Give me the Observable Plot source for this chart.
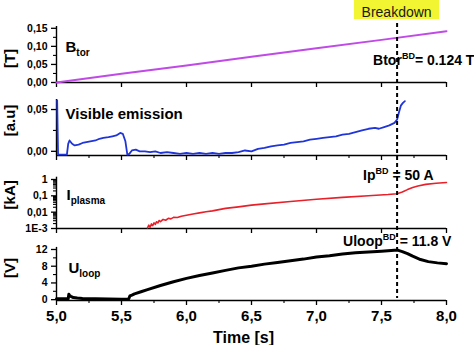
<!DOCTYPE html>
<html><head><meta charset="utf-8">
<script src="https://cdn.jsdelivr.net/npm/d3@7"></script>
<script src="https://cdn.jsdelivr.net/npm/@observablehq/plot@0.6"></script>
<style>
body{margin:0;background:#fff;}
#chart{position:relative;width:474px;height:345px;overflow:hidden;font-family:"Liberation Sans",Arial,sans-serif;}
#chart svg{position:absolute;left:0;}
#bd{position:absolute;top:0;height:19px;background:#f2f531;color:#1a1a1a;font-size:14px;text-align:center;line-height:24px;font-family:"Liberation Sans",Arial,sans-serif;}
</style></head><body><div id="chart"></div>
<script>
// ---- data ----
const timeDomain = [5, 8];
const bdTime = 7.62;
const xMajor = [5, 5.5, 6, 6.5, 7, 7.5, 8];
const xMinor = [5.25, 5.75, 6.25, 6.75, 7.25, 7.75];

// B_tor [T]
const bTime = [5.0, 5.5, 6.0, 6.5, 7.0, 7.5, 8.0];
const bTor  = [0, 0.024, 0.047, 0.071, 0.095, 0.118, 0.142];
const bTicks = [0, 0.05, 0.10, 0.15];
const bMinor = [0.025, 0.075, 0.125];

// Visible emission [a.u]
const emTime = [5.005, 5.012, 5.05, 5.08, 5.09, 5.10, 5.12, 5.14, 5.17, 5.20, 5.23, 5.26, 5.30, 5.33, 5.36, 5.40, 5.43, 5.46, 5.49, 5.51, 5.53, 5.545, 5.56, 5.58, 5.61, 5.64, 5.68, 5.72, 5.76, 5.80, 5.85, 5.90, 5.95, 6.00, 6.05, 6.10, 6.15, 6.20, 6.25, 6.30, 6.35, 6.40, 6.45, 6.50, 6.55, 6.60, 6.65, 6.70, 6.75, 6.80, 6.85, 6.90, 6.95, 7.00, 7.05, 7.10, 7.15, 7.20, 7.25, 7.30, 7.35, 7.40, 7.45, 7.48, 7.52, 7.56, 7.60, 7.62, 7.635, 7.65, 7.665, 7.68];
const emVal  = [0.061, -0.004, -0.004, -0.004, 0.009, 0.013, 0.009, 0.007, 0.008, 0.010, 0.011, 0.012, 0.013, 0.015, 0.016, 0.017, 0.018, 0.019, 0.022, 0.021, 0.012, -0.004, -0.003, 0.001, 0.002, 0.000, 0.000, -0.001, 0.000, -0.002, -0.001, -0.002, -0.003, -0.002, -0.003, -0.002, -0.003, -0.002, -0.003, -0.002, -0.002, -0.001, 0.001, 0.000, 0.003, 0.004, 0.006, 0.007, 0.008, 0.010, 0.011, 0.012, 0.014, 0.015, 0.016, 0.017, 0.018, 0.020, 0.021, 0.023, 0.025, 0.027, 0.028, 0.027, 0.029, 0.031, 0.034, 0.038, 0.047, 0.055, 0.058, 0.060];
const emTicks = [0, 0.05];
const emMinor = [0.025];

// I_plasma [kA] (log)
const ipTime = [5.70, 5.71, 5.72, 5.73, 5.74, 5.75, 5.76, 5.77, 5.78, 5.79, 5.80, 5.82, 5.84, 5.86, 5.88, 5.90, 5.93, 5.96, 6.00, 6.05, 6.10, 6.15, 6.20, 6.30, 6.40, 6.50, 6.60, 6.80, 7.00, 7.20, 7.40, 7.55, 7.62, 7.66, 7.70, 7.74, 7.78, 7.84, 7.92, 8.00];
const ipVal  = [0.0011, 0.0016, 0.0012, 0.0019, 0.0015, 0.0022, 0.0018, 0.0026, 0.0022, 0.0031, 0.0026, 0.0036, 0.0032, 0.0042, 0.0039, 0.0048, 0.0047, 0.0056, 0.0065, 0.0078, 0.009, 0.0105, 0.012, 0.017, 0.021, 0.027, 0.032, 0.045, 0.062, 0.080, 0.100, 0.120, 0.135, 0.17, 0.24, 0.32, 0.40, 0.50, 0.59, 0.66];
const ipTicks = [0.001, 0.01, 0.1, 1];
const ipTickLabels = ["1E-3", "0,01", "0,1", "1"];
const ipMinor = [0.002,0.003,0.004,0.005,0.006,0.007,0.008,0.009,0.02,0.03,0.04,0.05,0.06,0.07,0.08,0.09,0.2,0.3,0.4,0.5,0.6,0.7,0.8,0.9];

// U_loop [V]
const ulTime = [5.00, 5.05, 5.09, 5.095, 5.10, 5.11, 5.13, 5.16, 5.20, 5.30, 5.40, 5.50, 5.555, 5.565, 5.58, 5.60, 5.65, 5.70, 5.80, 5.90, 6.00, 6.10, 6.20, 6.30, 6.40, 6.50, 6.60, 6.70, 6.80, 6.90, 7.00, 7.10, 7.20, 7.30, 7.40, 7.50, 7.60, 7.63, 7.66, 7.70, 7.74, 7.80, 7.86, 7.93, 8.00];
const ulVal  = [0.2, 0.2, 0.2, 1.3, 1.0, 0.8, 0.5, 0.4, 0.3, 0.2, 0.15, 0.1, 0.15, 0.9, 1.1, 1.4, 1.9, 2.4, 3.4, 4.3, 5.1, 5.8, 6.4, 7.0, 7.6, 8.0, 8.5, 8.9, 9.3, 9.7, 10.2, 10.5, 10.9, 11.2, 11.4, 11.6, 11.8, 11.8, 11.5, 11.0, 10.4, 9.6, 9.1, 8.8, 8.6];
const ulTicks = [0, 4, 8, 12];
const ulMinor = [2, 6, 10];

const labels = {
  btor: "B_{tor}", btorBD: "Btor^{BD}= 0.124 T",
  em: "Visible emission",
  ip: "I_{plasma}", ipBD: "Ip^{BD} = 50 A",
  ul: "U_{loop}", ulBD: "Uloop^{BD} = 11.8 V",
  time: "Time [s]", breakdown: "Breakdown",
  units: ["[T]", "[a.u]", "[kA]", "[V]"]
};

// ---- drawing ----
const FONT = '"Liberation Sans", Arial, sans-serif';
const chart = document.getElementById("chart");
const zipTV = (t, v) => t.map((d, i) => ({t: d, v: v[i]}));
const comma = (n) => (d) => d.toFixed(n).replace(".", ",");

function rich(svg) {
  for (const t of svg.querySelectorAll("text")) {
    const s = t.textContent;
    if (!/[\^_]\{/.test(s)) continue;
    t.textContent = "";
    const re = /([\^_])\{([^}]*)\}|([^\^_]+)/g;
    let m, shift = 0;
    while ((m = re.exec(s))) {
      const ts = document.createElementNS("http://www.w3.org/2000/svg", "tspan");
      if (m[3] !== undefined) {
        ts.textContent = m[3];
        if (shift) { ts.setAttribute("dy", -shift); shift = 0; }
      } else {
        const sup = m[1] === "^";
        const d = sup ? -6 : 4;
        ts.textContent = m[2];
        ts.setAttribute("font-size", sup ? 9 : 10);
        ts.setAttribute("dy", d - shift);
        shift = d;
      }
      t.appendChild(ts);
    }
  }
}

function panel(cfg) {
  const svg = Plot.plot({
    width: 474, height: cfg.height,
    marginLeft: 56, marginRight: 28, marginTop: cfg.mt, marginBottom: cfg.mb,
    style: {background: "transparent", overflow: "visible", fontFamily: FONT, color: "#000"},
    x: {domain: timeDomain, label: null},
    y: {...cfg.y, label: null},
    marks: [
      Plot.ruleX([timeDomain[0]], {strokeWidth: 1.4}),
      Plot.ruleY([cfg.y.domain[0]], {strokeWidth: 1.4}),
      Plot.axisY(cfg.yMajor, {tickSize: 5, tickPadding: 4, tickFormat: cfg.yFmt, fontSize: 10.5, fontWeight: "bold", strokeWidth: 1.3}),
      Plot.axisY(cfg.yMinor, {tickSize: 3, tickFormat: () => "", strokeWidth: 1.1}),
      Plot.axisX(xMajor, {tickSize: 5, tickPadding: 5, tickFormat: cfg.xLabels ? comma(1) : () => "", fontSize: 15, fontWeight: "bold", strokeWidth: 1.3}),
      cfg.xMinor ? Plot.axisX(xMinor, {tickSize: 3, tickFormat: () => "", strokeWidth: 1.1}) : null,
      Plot.text([cfg.unit], {frameAnchor: "left", textAnchor: "middle", lineAnchor: "middle", rotate: -90, dx: -46, dy: cfg.unitDy, fontSize: 15, fontWeight: "bold"}),
      ...cfg.marks
    ]
  });
  svg.style.top = cfg.top + "px";
  rich(svg);
  chart.append(svg);
  return svg;
}

const nameText = (txt, dx, dy) => Plot.text([txt], {frameAnchor: "top-left", textAnchor: "start", lineAnchor: "bottom", dx, dy, fontSize: 15, fontWeight: "bold"});
const bdText = (txt, dx, dy) => Plot.text([{t: bdTime, s: txt}], {x: "t", text: "s", frameAnchor: "top", textAnchor: "start", lineAnchor: "bottom", dx, dy, fontSize: 14, fontWeight: "bold"});

panel({
  top: 0, height: 90, mt: 26, mb: 8,
  y: {domain: [0, 0.155]}, yMajor: bTicks, yMinor: bMinor, yFmt: comma(2),
  unit: labels.units[0], unitDy: 4,
  marks: [
    Plot.line(zipTV(bTime, bTor), {x: "t", y: "v", stroke: "#c04ae6", strokeWidth: 2}),
    nameText(labels.btor, 9, 25),
    bdText(labels.btorBD, -24, 38)
  ]
});

panel({
  top: 90, height: 72, mt: 9, mb: 7,
  y: {domain: [-0.005, 0.062]}, yMajor: emTicks, yMinor: emMinor, yFmt: comma(2), xMinor: true,
  unit: labels.units[1], unitDy: -7,
  marks: [
    Plot.line(zipTV(emTime, emVal), {x: "t", y: "v", stroke: "#1f35d8", strokeWidth: 1.8}),
    nameText(labels.em, 9, 19)
  ]
});

panel({
  top: 162, height: 72, mt: 14.7, mb: 6,
  y: {type: "log", domain: [0.001, 1.38]}, yMajor: ipTicks, yMinor: ipMinor,
  yFmt: (d) => ipTickLabels[ipTicks.indexOf(d)],
  unit: labels.units[2], unitDy: -8,
  marks: [
    Plot.line(zipTV(ipTime, ipVal), {x: "t", y: "v", stroke: "#e8202a", strokeWidth: 1.6}),
    nameText(labels.ip, 10, 23),
    bdText(labels.ipBD, -34, 2.5)
  ]
});

panel({
  top: 234, height: 111, mt: 12.9, mb: 45,
  y: {domain: [-0.2, 12.5]}, yMajor: ulTicks, yMinor: ulMinor, yFmt: (d) => String(d), xMinor: true, xLabels: true,
  unit: labels.units[3], unitDy: -6,
  marks: [
    Plot.line(zipTV(ulTime, ulVal), {x: "t", y: "v", stroke: "#000", strokeWidth: 3}),
    nameText(labels.ul, 12, 26),
    bdText(labels.ulBD, -54, -1),
    Plot.text([labels.time], {frameAnchor: "bottom", lineAnchor: "middle", dy: 37, dx: -8, fontSize: 16, fontWeight: "bold"})
  ]
});

// overlay: breakdown dashed line
const overlay = Plot.plot({
  width: 474, height: 345, marginLeft: 56, marginRight: 28, marginTop: 23, marginBottom: 47,
  style: {background: "transparent", overflow: "visible"},
  x: {domain: timeDomain, axis: null}, y: {domain: [0, 1], axis: null},
  marks: [Plot.ruleX([bdTime], {stroke: "#000", strokeWidth: 2, strokeDasharray: "4,3"})]
});
overlay.style.top = "0px";
chart.append(overlay);

const bx = overlay.scale("x").apply(bdTime);
const bd = document.createElement("div");
bd.id = "bd";
bd.textContent = labels.breakdown;
bd.style.left = (bx - 42.5) + "px";
bd.style.width = "85px";
chart.append(bd);
</script></body></html>
